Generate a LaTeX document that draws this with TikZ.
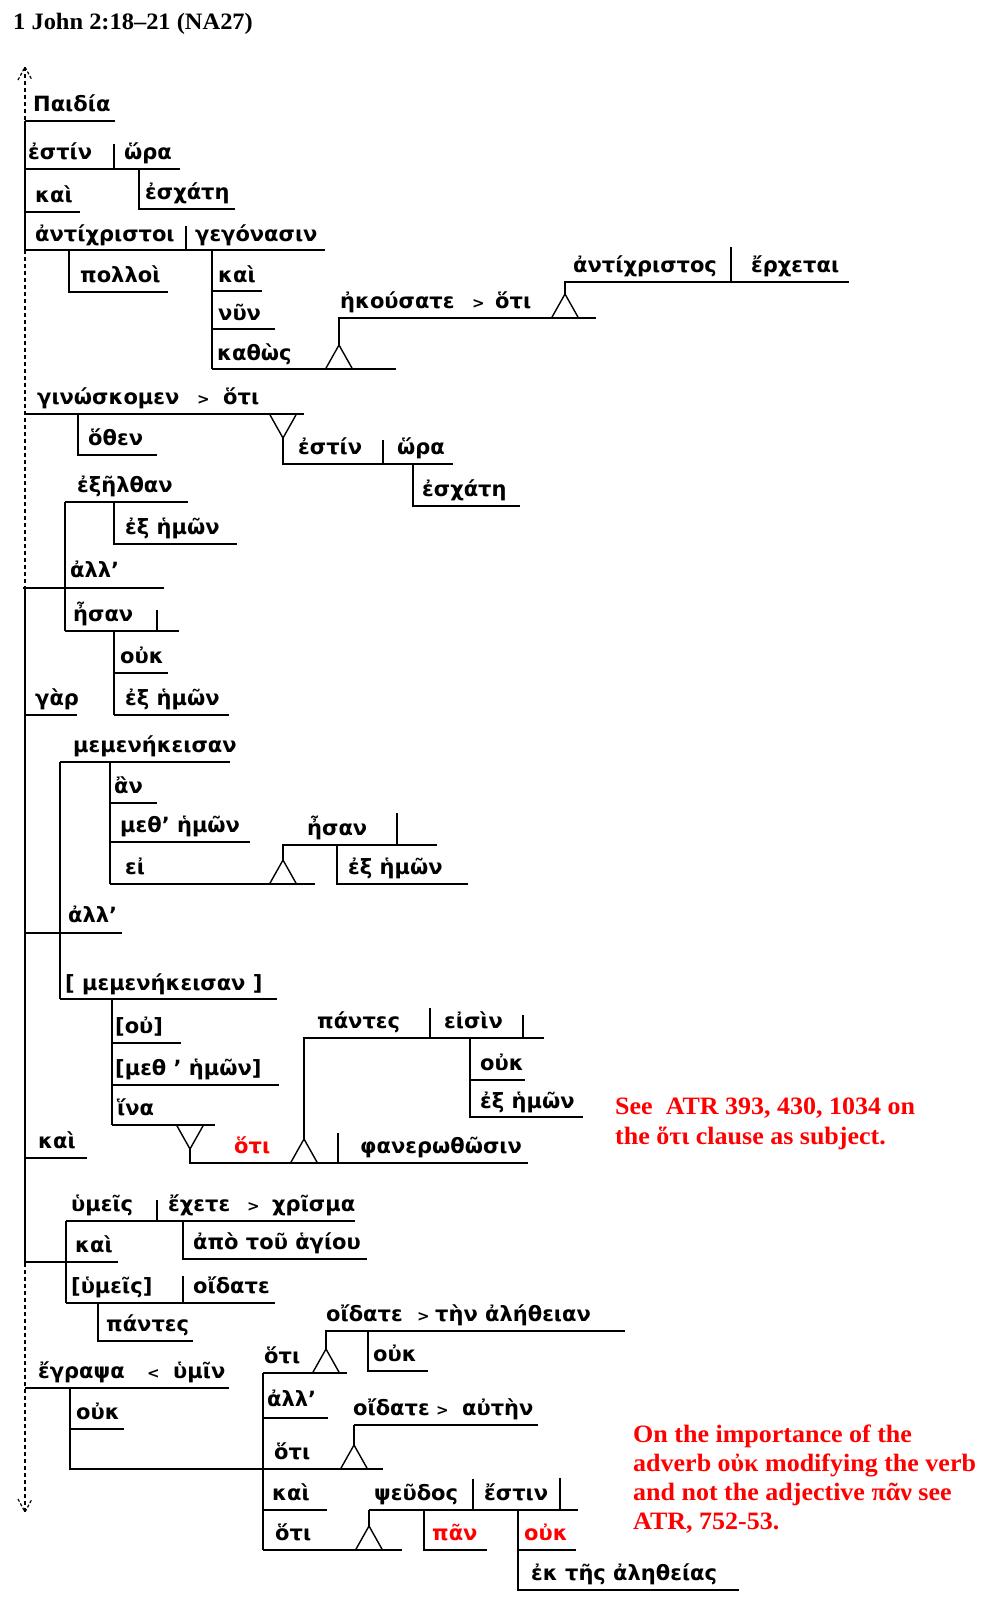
\documentclass[tikz,border=0pt]{standalone}
\usepackage{fontspec}
\setmainfont{Liberation Serif}
\newfontfamily\gkfont{DejaVu Sans}
\newfontfamily\notefont{Liberation Serif}[FakeStretch=1.04]
\begin{document}
\begin{tikzpicture}[x=1pt,y=-1pt,
  ln/.style={line width=1.4pt},
  dsh/.style={line width=1.2pt, dash pattern=on 4pt off 3pt},
  gk/.style={anchor=base west, inner sep=0pt, font=\gkfont\bfseries\fontsize{21}{21}\selectfont},
  gkr/.style={gk, text=red},
  op/.style={anchor=base west, inner sep=0pt, font=\gkfont\bfseries\fontsize{15}{15}\selectfont},
  note/.style={anchor=base west, inner sep=0pt, text=red, font=\notefont\bfseries\fontsize{25}{30}\selectfont},
  uptri/.pic={\draw[line width=1.4pt] (-13.5,0)--(0,-24)--(13.5,0);},
  dntri/.pic={\draw[line width=1.4pt] (-13.5,0)--(0,24)--(13.5,0);}
]
\useasboundingbox (0,0) rectangle (1004,1600);
\node[anchor=base west, inner sep=0pt, font=\notefont\bfseries\fontsize{23.5}{23.5}\selectfont] (title) at (13,30) {1 John 2:18–21 (NA27)};
% main discourse line
\draw[dsh] (25,67) -- (25,121);
\draw[ln] (25,121) -- (25,250);
\draw[dsh] (25,250) -- (25,588);
\draw[ln] (25,588) -- (25,1263);
\draw[dsh] (25,1263) -- (25,1512);
\draw[dsh, dash pattern=on 3pt off 2pt] (18,80) -- (25,67) -- (32,80);
\draw[dsh, dash pattern=on 3pt off 2pt] (18,1499) -- (25,1512) -- (32,1499);
% group 1
\node[gk] (w1) at (33,112) {Παιδία};
\draw[ln] (25,121) -- (115,121);
\node[gk] (w2) at (28,159) {ἐστίν};
\node[gk] (w3) at (124,159) {ὥρα};
\draw[ln] (25,169) -- (180,169) (114,144) -- (114,169);
\node[gk] (w4) at (145,199) {ἐσχάτη};
\draw[ln] (139,169) -- (139,209) -- (235,209);
\node[gk] (w5) at (35,202) {καὶ};
\draw[ln] (25,212) -- (80,212);
\node[gk] (w6) at (35,241) {ἀντίχριστοι};
\node[gk] (w7) at (195,241) {γεγόνασιν};
\draw[ln] (25,250) -- (325,250) (186,226) -- (186,250);
\node[gk] (w8) at (80,282) {πολλοὶ};
\draw[ln] (69,250) -- (69,292) -- (168,292);
\draw[ln] (212,250) -- (212,369);
\node[gk] (w9) at (218,282) {καὶ};
\draw[ln] (212,291) -- (262,291);
\node[gk] (w10) at (218,320) {νῦν};
\draw[ln] (212,329) -- (275,329);
\node[gk] (w11) at (217,360) {καθὼς};
\draw[ln] (212,369) -- (396,369);
\pic at (339,369) {uptri};
\draw[ln] (339,345) -- (339,318) -- (596,318);
\node[gk] (w12) at (340,308) {ἠκούσατε};
\node[op] (o1) at (472,308) {>};
\node[gk] (w13) at (495,308) {ὅτι};
\pic at (565,318) {uptri};
\draw[ln] (565,294) -- (565,282) -- (849,282) (731,247) -- (731,282);
\node[gk] (w14) at (573,272) {ἀντίχριστος};
\node[gk] (w15) at (751,272) {ἔρχεται};
% group 2
\node[gk] (w16) at (37,404) {γινώσκομεν};
\node[op] (o2) at (197,404) {>};
\node[gk] (w17) at (223,404) {ὅτι};
\draw[ln] (25,414) -- (304,414);
\pic at (283,414) {dntri};
\draw[ln] (283,438) -- (283,464) -- (453,464) (383,440) -- (383,464);
\node[gk] (w18) at (298,454) {ἐστίν};
\node[gk] (w19) at (397,454) {ὥρα};
\draw[ln] (413,464) -- (413,506) -- (520,506);
\node[gk] (w20) at (422,496) {ἐσχάτη};
\draw[ln] (78,414) -- (78,455) -- (157,455);
\node[gk] (w21) at (88,445) {ὅθεν};
% group 3
\node[gk] (w22) at (77,492) {ἐξῆλθαν};
\draw[ln] (65,502) -- (188,502);
\draw[ln] (114,502) -- (114,544) -- (237,544);
\node[gk] (w23) at (125,534) {ἐξ ἡμῶν};
\draw[ln] (65,502) -- (65,631);
\node[gk] (w24) at (70,577) {ἀλλ’};
\draw[ln] (23,588) -- (164,588);
\node[gk] (w25) at (73,621) {ἦσαν};
\draw[ln] (65,631) -- (179,631) (157,610) -- (157,631);
\draw[ln] (114,631) -- (114,715);
\node[gk] (w26) at (120,663) {οὐκ};
\draw[ln] (114,673) -- (168,673);
\node[gk] (w27) at (125,705) {ἐξ ἡμῶν};
\draw[ln] (114,715) -- (229,715);
\node[gk] (w28) at (35,705) {γὰρ};
\draw[ln] (25,715) -- (77,715);
% group 4
\node[gk] (w29) at (73,752) {μεμενήκεισαν};
\draw[ln] (60,762) -- (230,762);
\draw[ln] (110,762) -- (110,884);
\node[gk] (w30) at (114,793) {ἂν};
\draw[ln] (110,803) -- (157,803);
\node[gk] (w31) at (120,832) {μεθ’ ἡμῶν};
\draw[ln] (110,842) -- (250,842);
\node[gk] (w32) at (125,874) {εἰ};
\draw[ln] (110,884) -- (315,884);
\pic at (283,884) {uptri};
\draw[ln] (283,860) -- (283,845) -- (437,845) (397,813) -- (397,845);
\node[gk] (w33) at (307,835) {ἦσαν};
\draw[ln] (337,845) -- (337,884) -- (468,884);
\node[gk] (w34) at (348,874) {ἐξ ἡμῶν};
\node[gk] (w35) at (68,922) {ἀλλ’};
\draw[ln] (25,933) -- (122,933);
\draw[ln] (60,762) -- (60,999);
\node[gk] (w36) at (65,990) {[ μεμενήκεισαν ]};
\draw[ln] (60,999) -- (277,999);
\draw[ln] (112,999) -- (112,1125);
\node[gk] (w37) at (115,1033) {[οὐ]};
\draw[ln] (112,1043) -- (181,1043);
\node[gk] (w38) at (115,1075) {[μεθ ’ ἡμῶν]};
\draw[ln] (112,1085) -- (279,1085);
\node[gk] (w39) at (117,1115) {ἵνα};
\draw[ln] (112,1125) -- (215,1125);
\pic at (190,1125) {dntri};
\draw[ln] (190,1149) -- (190,1163) -- (528,1163);
\node[gkr] (w40) at (234,1153) {ὅτι};
\pic at (304,1163) {uptri};
\draw[ln] (304,1139) -- (304,1038) -- (544,1038) (430,1008) -- (430,1038) (523,1015) -- (523,1038);
\node[gk] (w41) at (317,1028) {πάντες};
\node[gk] (w42) at (444,1028) {εἰσὶν};
\draw[ln] (470,1038) -- (470,1117) -- (583,1117) (470,1080) -- (525,1080);
\node[gk] (w43) at (480,1070) {οὐκ};
\node[gk] (w44) at (480,1108) {ἐξ ἡμῶν};
\draw[ln] (338,1133) -- (338,1163);
\node[gk] (w45) at (360,1153) {φανερωθῶσιν};
\node[gk] (w46) at (38,1148) {καὶ};
\draw[ln] (25,1158) -- (87,1158);
\node[note] (n1) at (615,1114) {See\ \ ATR 393, 430, 1034 on};
\node[note] (n2) at (615,1144) {the ὅτι clause as subject.};
% group 5
\node[gk] (w47) at (71,1211) {ὑμεῖς};
\node[gk] (w48) at (168,1211) {ἔχετε};
\node[op] (o3) at (247,1211) {>};
\node[gk] (w49) at (272,1211) {χρῖσμα};
\draw[ln] (66,1221) -- (355,1221) (157,1200) -- (157,1221);
\draw[ln] (183,1221) -- (183,1259) -- (367,1259);
\node[gk] (w50) at (193,1249) {ἀπὸ τοῦ ἁγίου};
\draw[ln] (66,1221) -- (66,1303);
\node[gk] (w51) at (75,1252) {καὶ};
\draw[ln] (25,1262) -- (118,1262);
\node[gk] (w52) at (71,1293) {[ὑμεῖς]};
\node[gk] (w53) at (193,1293) {οἴδατε};
\draw[ln] (66,1303) -- (275,1303) (183,1276) -- (183,1303);
\draw[ln] (98,1303) -- (98,1341) -- (193,1341);
\node[gk] (w54) at (106,1331) {πάντες};
% group 6
\node[gk] (w55) at (38,1378) {ἔγραψα};
\node[op] (o4) at (147,1378) {<};
\node[gk] (w56) at (173,1378) {ὑμῖν};
\draw[ln] (25,1388) -- (229,1388);
\draw[ln] (70,1388) -- (70,1469) -- (383,1469);
\node[gk] (w57) at (76,1419) {οὐκ};
\draw[ln] (70,1429) -- (124,1429);
\draw[ln] (263,1373) -- (263,1550);
\node[gk] (w58) at (264,1363) {ὅτι};
\draw[ln] (263,1373) -- (347,1373);
\pic at (326,1373) {uptri};
\draw[ln] (326,1349) -- (326,1331) -- (625,1331);
\node[gk] (w59) at (326,1321) {οἴδατε};
\node[op] (o5) at (417,1321) {>};
\node[gk] (w60) at (435,1321) {τὴν ἀλήθειαν};
\draw[ln] (368,1331) -- (368,1371) -- (428,1371);
\node[gk] (w61) at (373,1361) {οὐκ};
\node[gk] (w62) at (267,1406) {ἀλλ’};
\draw[ln] (263,1418) -- (328,1418);
\node[gk] (w63) at (353,1415) {οἴδατε};
\node[op] (o6) at (436,1415) {>};
\node[gk] (w64) at (462,1415) {αὐτὴν};
\draw[ln] (354,1425) -- (538,1425);
\node[gk] (w65) at (274,1459) {ὅτι};
\pic at (354,1469) {uptri};
\draw[ln] (354,1445) -- (354,1425);
\node[gk] (w66) at (272,1500) {καὶ};
\draw[ln] (263,1510) -- (327,1510);
\node[gk] (w67) at (374,1500) {ψεῦδος};
\node[gk] (w68) at (484,1500) {ἔστιν};
\draw[ln] (369,1510) -- (578,1510) (473,1479) -- (473,1510) (560,1478) -- (560,1510);
\node[gk] (w69) at (275,1540) {ὅτι};
\draw[ln] (263,1550) -- (402,1550);
\pic at (369,1550) {uptri};
\draw[ln] (369,1526) -- (369,1510);
\draw[ln] (424,1510) -- (424,1550) -- (487,1550);
\node[gkr] (w70) at (432,1540) {πᾶν};
\draw[ln] (518,1510) -- (518,1590) -- (739,1590) (518,1550) -- (576,1550);
\node[gkr] (w71) at (524,1540) {οὐκ};
\node[gk] (w72) at (531,1580) {ἐκ τῆς ἀληθείας};
\node[note] (n3) at (633,1442) {On the importance of the};
\node[note] (n4) at (633,1471) {adverb οὐκ modifying the verb};
\node[note] (n5) at (633,1500) {and not the adjective πᾶν see};
\node[note] (n6) at (633,1529) {ATR, 752-53.};
\end{tikzpicture}
\end{document}
